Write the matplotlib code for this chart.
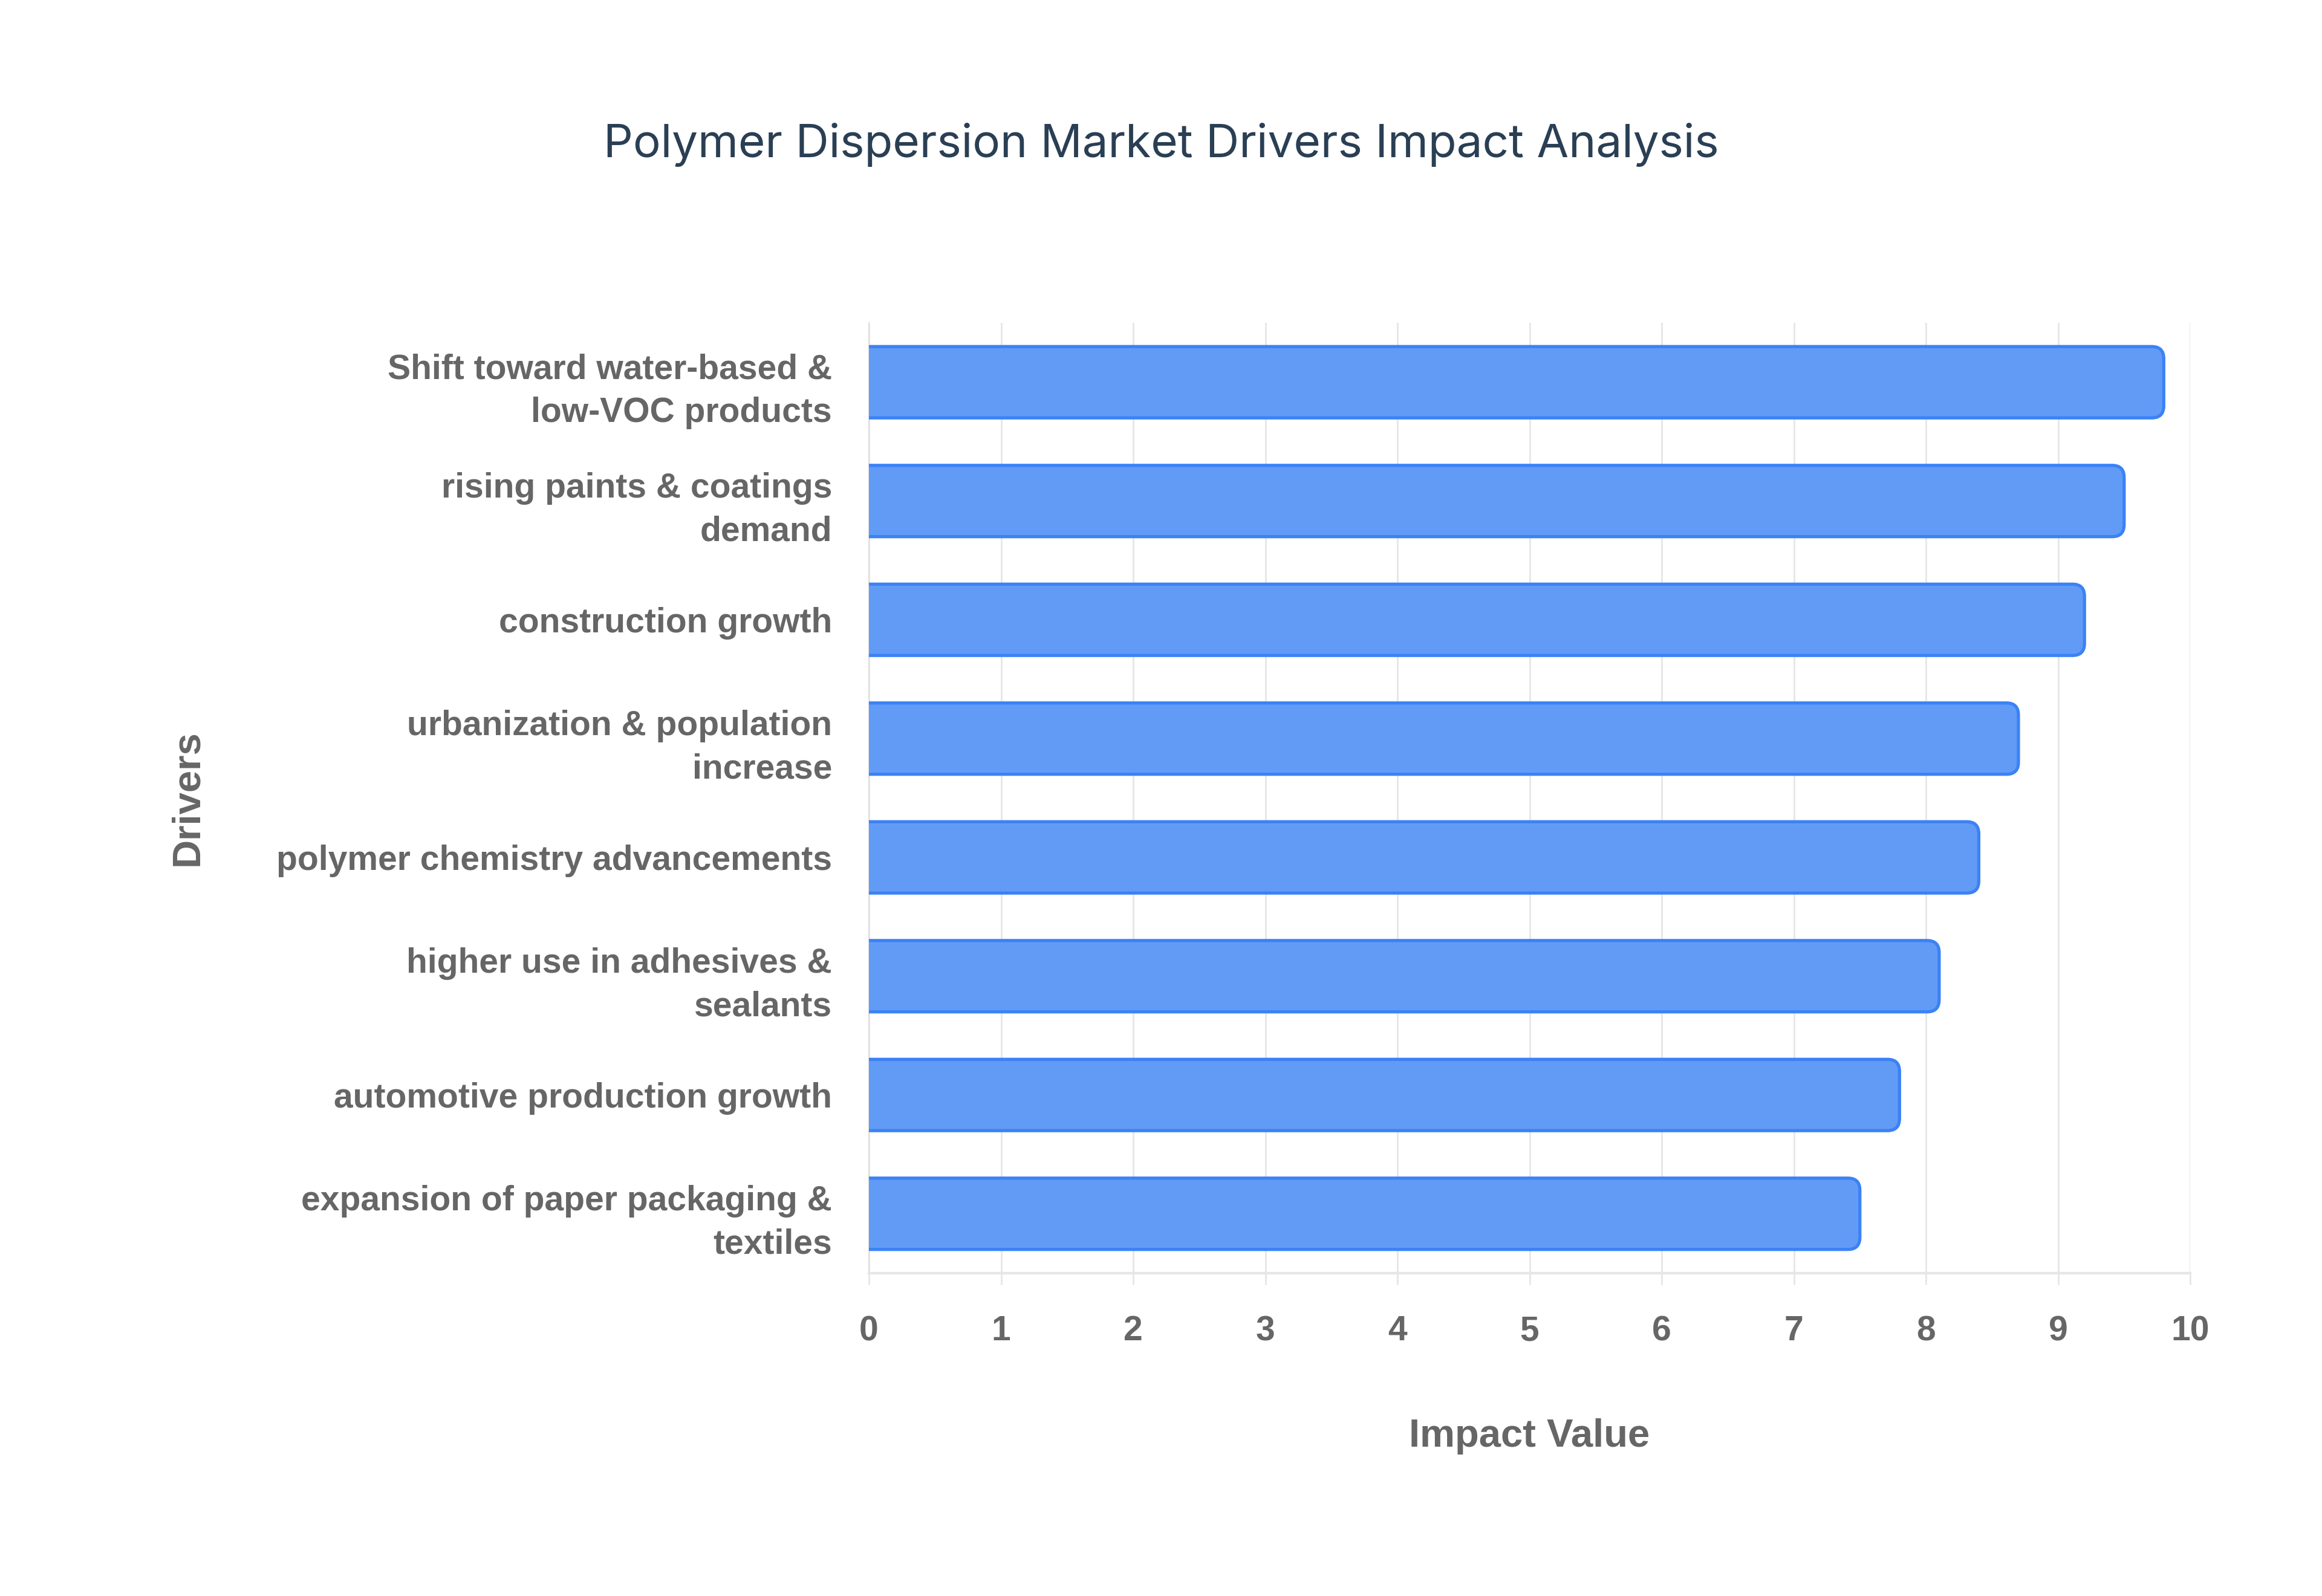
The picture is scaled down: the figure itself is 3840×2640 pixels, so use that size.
import matplotlib
matplotlib.use("Agg")
import matplotlib.pyplot as plt
from matplotlib.patches import FancyBboxPatch

# drivers from top to bottom and their impact values
drivers = [
    "Shift toward water-based &\nlow-VOC products",
    "rising paints & coatings\ndemand",
    "construction growth",
    "urbanization & population\nincrease",
    "polymer chemistry advancements",
    "higher use in adhesives &\nsealants",
    "automotive production growth",
    "expansion of paper packaging &\ntextiles",
]
impact = [9.8, 9.5, 9.2, 8.7, 8.4, 8.1, 7.8, 7.5]
xticks = [0, 1, 2, 3, 4, 5, 6, 7, 8, 9, 10]

fill_col = "#629BF6"
edge_col = "#3B82F6"
grey = "#666666"

fig = plt.figure(figsize=(19.2, 13.2), dpi=200)
ax = fig.add_axes([1437 / 3840, 1 - 2106 / 2640, (3622 - 1437) / 3840, (2106 - 534) / 2640])

n = len(drivers)
ypos = list(range(n))
bar_h = 0.6
for y, v in zip(ypos, impact):
    # start left of zero so the left rounding is clipped away by the axes
    p = FancyBboxPatch((-0.5, y - bar_h / 2), v + 0.5, bar_h,
                       boxstyle="round,pad=0,rounding_size=0.09",
                       mutation_aspect=1.13,
                       facecolor=fill_col, edgecolor=edge_col, linewidth=1.9, zorder=3)
    ax.add_patch(p)

ax.set_xlim(0, 10)
ax.set_ylim(n - 0.5, -0.5)
ax.set_yticks(ypos)
ax.set_yticklabels(drivers, fontsize=20.5, fontweight="bold", color=grey,
                   family="Liberation Sans", linespacing=1.42)
ax.set_xticks(xticks)
ax.set_xticklabels([str(t) for t in xticks], fontsize=20.5, fontweight="bold",
                   color=grey, family="Liberation Sans")
ax.tick_params(axis="y", length=0, pad=22)
ax.tick_params(axis="x", length=7, color="#e6e6e6", width=1, pad=18)

ax.grid(axis="x", color="#e6e6e6", linewidth=1.0, zorder=0)
for s in ["top", "right"]:
    ax.spines[s].set_visible(False)
ax.spines["left"].set_color("#e0e0e0")
ax.spines["bottom"].set_color("#e6e6e6")
ax.spines["bottom"].set_linewidth(1.5)

ax.set_xlabel("Impact Value", fontsize=23.5, fontweight="bold", color=grey,
              family="Liberation Sans", labelpad=42)
ax.set_ylabel("Drivers", fontsize=23.5, fontweight="bold", color=grey,
              family="Liberation Sans", labelpad=42)

fig.text(0.5, 1 - 240 / 2640, "Polymer Dispersion Market Drivers Impact Analysis",
         ha="center", va="center", fontsize=27.5, color="#2A3F54", family="Inter")

fig.savefig("out.png", dpi=200, facecolor="white")
